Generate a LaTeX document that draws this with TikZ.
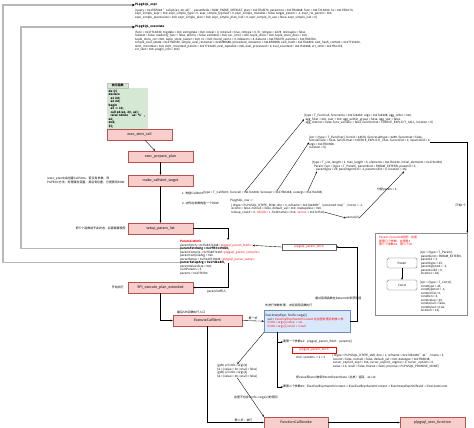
\documentclass[tikz,border=0pt]{standalone}
\usepackage{fontspec}
\setmainfont{Noto Sans CJK SC}
\usetikzlibrary{arrows.meta,
                positioning}

\definecolor{boxpink}{HTML}{F8CECC}
\definecolor{boxred}{HTML}{B85450}
\definecolor{codegreen}{HTML}{D5E8D4}
\definecolor{noteblue}{HTML}{DAE8FC}
\definecolor{noteline}{HTML}{6C8EBF}
\definecolor{backline}{HTML}{B8B8B8}

\newcommand{\tinyfont}{\fontsize{2.95}{3.5}\selectfont}
\newcommand{\boxfont}{\fontsize{3.5}{4}\selectfont}

\begin{document}
\begin{tikzpicture}%
    [x=1pt, y=-1pt, line width=0.35pt,
     >={Stealth[length=2.2pt, width=1.8pt]},
     func/.style={draw=boxred, fill=boxpink, minimum width=65pt, minimum height=11pt,
                  inner sep=0pt, font=\boxfont},
     txt/.style={anchor=west, inner sep=0pt, align=left, font=\tinyfont},
     fetchbox/.style={fill=white, minimum height=6pt, inner sep=0pt, text=red, font=\tinyfont},
     backlink/.style={draw=backline, line width=1.1pt,
                      -{Stealth[length=3pt, width=2.6pt, black]}},
     roundbox/.style={draw=black!70, rounded corners=1.5pt, minimum width=30pt,
                      minimum height=10pt, inner sep=0pt, font=\tinyfont}]
    \useasboundingbox (0,0) rectangle (474,428);

    % structs on top
    \node[txt, font=\tinyfont\bfseries] (exprtitle) at (135,5) {PLpgSQL\_expr};
    \node[txt, anchor=north west] (exprtext) at (135,8.5) {\{query = 0x17f6fda8 "call p1(a1, 20, a2)", parseMode = RAW\_PARSE\_DEFAULT, plan = 0x17f3d570, paramnos = 0x17f6d268, func = 0x17713d40, ns = 0x17f6bc70,\\
      expr\_simple\_expr = 0x0, expr\_simple\_type = 0, expr\_simple\_typmod = 0, expr\_simple\_mutable = false, target\_param = -1, expr\_rw\_param = 0x0,\\
      expr\_simple\_plansource = 0x0, expr\_simple\_plan = 0x0, expr\_simple\_plan\_lxid = 0, expr\_simple\_in\_use = false, expr\_simple\_lxid = 0\}};
    \node[txt, font=\tinyfont\bfseries] (estatetitle) at (135,27) {PLpgSQL\_execstate};
    \node[txt, anchor=north west] (estatetext) at (135,30.5) {\{func = 0x17713d40, trigdata = 0x0, evtrigdata = 0x0, retval = 0, retisnull = true, rettype = 0, fn\_rettype = 2278, retistuple = false,\\
      retisset = false, readonly\_func = false, atomic = false, exitlabel = 0x0, cur\_error = 0x0, tuple\_store = 0x0, tuple\_store\_desc = 0x0,\\
      tuple\_store\_cxt = 0x0, tuple\_store\_owner = 0x0, rsi = 0x0, found\_varno = 0, ndatums = 4, datums = 0x17f6b7f0, paramLI = 0x17f6b7b0,\\
      simple\_eval\_estate = 0x17fa0350, simple\_eval\_resowner = 0x16f69688, procedure\_resowner = 0x16f69688, cast\_hash = 0x17fa2800, cast\_hash\_context = 0x17713a30,\\
      stmt\_mcontext = 0x0, stmt\_mcontext\_parent = 0x17713a30, eval\_tuptable = 0x0, eval\_processed = 0, eval\_econtext = 0x17fa0468, err\_stmt = 0x17f6c178,\\
      err\_text = 0x0, plugin\_info = 0x0\}};

    % the block being run
    \node[fill=codegreen, anchor=north west, text width=38pt, minimum height=41pt, inner sep=1.5pt,
          align=left, font=\tinyfont\bfseries] (plcode) at (107,88) {do \$\$\\
      declare\\
      \ \ a1 int;\\
      \ \ a2 int;\\
      begin\\
      \ \ a1 := 10;\\
      \ \ call p1(a1, 20, a2);\\
      \ \ raise notice 'a2: \%', a2;\\
      end;\\
      \$\$;};
    \node[fill=codegreen, draw=black!25, anchor=south west, minimum width=21pt, minimum height=5pt,
          inner sep=0pt, font=\tinyfont\bfseries] (codetab) at (plcode.north west) {执行函数};

    % main calls
    \node[func] (stmtcall) at (139.5,134.5) {exec\_stmt\_call};
    \node[func] (prepplan) at (160.5,156.5) {exec\_prepare\_plan};
    \node[func] (calltarget) at (160.5,180.5) {make\_callstmt\_target};
    \node[func] (setuplist) at (160.5,228.5) {setup\_param\_list};
    \node[func] (spiplan) at (160.5,287.5) {SPI\_execute\_plan\_extended};
    \node[func, minimum width=69pt] (execcall) at (207.5,320.5) {ExecuteCallStmt};
    \node[func, minimum width=64pt] (fcinvoke) at (296,422.5) {FunctionCallInvoke};
    \node[func] (execfunc) at (432.5,422.5) {plpgsql\_exec\_function};

    \draw[->] (stmtcall) -- (prepplan);
    \draw[->] (prepplan) -- (calltarget);
    \draw[->] (calltarget) -- (setuplist);

    \node[txt] (targetnote) at (47,180.5) {(exec\_plan中会创建CallStmt，若没有参数，同\\
      PGPROC方法，处理缓存变量，其后有位置，它是使用ROW};
    \node[txt, anchor=east] (setupnote) at ([xshift=-2pt]setuplist.west) {把三个函数给予此状态，后面需要使用};
    \node[txt, anchor=east] (startexec) at ([xshift=-4pt]spiplan.west) {开始执行};

    % CallStmt and ROW
    \node[txt] (step1) at (182,193) {1. 构造CallStmt};
    \node[txt] (cs0) at (203,193) {\{type = T\_CallStmt,\ };
    \node[txt, anchor=base west] (csfunccall) at (cs0.base east) {funccall = 0x17e6308,\ };
    \node[txt, anchor=base west] (csfuncexpr) at (csfunccall.base east) {funcexpr = 0x17fb04b8,\ };
    \node[txt, anchor=base west] (csoutargs) at (csfuncexpr.base east) {outargs = 0x17bcd08\}};

    \node[txt, anchor=north west] (funccalltext) at (304,114) {\{type = T\_FuncCall, funcname = 0x17e62b0, args = 0x17e62d8, agg\_order = 0x0,\\
      \ \ agg\_filter = 0x0, over = 0x0, agg\_within\_group = false, agg\_star = false,\\
      \ \ agg\_distinct = false, func\_variadic = false, funcformat = COERCE\_EXPLICIT\_CALL, location = 5\}};
    \node[txt, anchor=north west] (funcexprtext) at (309,135.5) {\{xpr = \{type = T\_FuncExpr\}, funcid = 24576, funcresulttype = 2249, funcretset = false,\\
      funcvariadic = false, funcformat = COERCE\_EXPLICIT\_CALL, funccollid = 0, inputcollid = 0,\\
      args = 0x17fb0b58,\\
      location = 5\}};
    \node[txt, anchor=north west] (listtext) at (312,161) {\{type = T\_List, length = 1, max\_length = 5, elements = 0x17bcd20, initial\_elements = 0x17bcd20\}\\
      \ \ \ Param: \{xpr = \{type = T\_Param\}, paramkind = PARAM\_EXTERN, paramid = 3,\\
      \ \ \ \ \ \ paramtype = 23, paramtypmod = -1, paramcollid = 0, location = 16\}};

    \draw[->] (csfunccall.north) -- (funccalltext.west);
    \draw[->] (csfuncexpr.north) -- (funcexprtext.west);
    \draw[->] (csoutargs.north) -- ([xshift=5pt]listtext.south west);

    \node[txt] (step2) at (182,203) {2. 对传出参数构造一个ROW};
    \node[txt] (rowhead) at (230,201) {PLpgSQL\_row ->};
    \node[txt, anchor=north west] (rowtext) at (231,203.5) {\{ dtype = PLPGSQL\_DTYPE\_ROW, dno = 3, refname = 0x17de48f0 "(unnamed row)", lineno = -1,\\
      isconst = false, notnull = false, default\_val = 0x0, rowtupdesc = 0x0,};
    \node[txt, anchor=base west] (rowtail0) at ([yshift=-3.5pt]rowtext.base west) {lookup\_rowid = 0,\ };
    \node[txt, anchor=base west, text=red] (rownfields) at (rowtail0.base east) {nfields = 1};
    \node[txt, anchor=base west] (rowtail1) at (rownfields.base east) {, fieldnames = 0x0,\ };
    \node[txt, anchor=base west, text=red] (rowvarnos) at (rowtail1.base east) {varnos};
    \node[txt, anchor=base west] (rowtail2) at (rowvarnos.base east) {\ = 0x17e7fa0\}};

    \node[txt] (varnoszero) at (346,218) {varnos[0]};
    \node[txt] (allocparam) at (377,190) {分配param = 3};
    \draw[->] (rowtail2.east) -- (varnoszero.west);
    \draw[->] (varnoszero.east) -- ([xshift=27pt]listtext.south);

    % ParamListInfo
    \node[txt, text=red, font=\tinyfont\bfseries] (plhead) at (180,241.5) {ParamListInfo};
    \node[txt, anchor=base west] (pl1) at ([yshift=-3.5pt]plhead.base west) {paramFetch = 0x7fa4d71268 \textcolor{red}{<plpgsql\_param\_fetch>},};
    \node[txt, anchor=base west, font=\tinyfont\bfseries] (fetcharg) at ([yshift=-3.5pt]pl1.base west) {paramFetchArg = 0x7ff57139d20,};
    \node[txt, anchor=base west] (pl3) at ([yshift=-3.5pt]fetcharg.base west) {paramCompile = 0x7fa4d7126f \textcolor{red}{<plpgsql\_param\_compile>},};
    \node[txt, anchor=base west] (pl4) at ([yshift=-3.5pt]pl3.base west) {paramCompileArg = 0x0,};
    \node[txt, anchor=base west] (pl5) at ([yshift=-3.5pt]pl4.base west) {parserSetup = 0x7fa4d719224 \textcolor{red}{<plpgsql\_parser\_setup>},};
    \node[txt, anchor=base west, font=\tinyfont\bfseries] (setuparg) at ([yshift=-3.5pt]pl5.base west) {parserSetupArg = 0x17d6e4f0,};
    \node[txt, anchor=base west] (pl7) at ([yshift=-3.5pt]setuparg.base west) {paramValuesSize = 0x0,};
    \node[txt, anchor=base west] (pl8) at ([yshift=-3.5pt]pl7.base west) {numParams = 3,};
    \node[txt, anchor=base west] (pl9) at ([yshift=-3.5pt]pl8.base west) {params = 0x17f07b0};

    \draw[backlink] (setuparg.west) -- ++(-177,0) |- (exprtitle.west);
    \draw[backlink] (fetcharg.west) -- ++(-159,0) |- (estatetitle.west);

    \coordinate (plin) at (228,240);
    \draw[->] (setuplist.east) -| (plin);
    \draw[->] (plin |- setuparg) |- (spiplan.east);
    \node[txt] (plpass) at (207,291.5) {paramlist传入};

    \node[fetchbox, draw=black!60, minimum width=54pt] (fetchcb) at (309,247) {plpgsql\_param\_fetch};
    \draw[->] (fetchcb.west) -- (pl1.east);

    % Param / Const
    \node[draw=black!45, minimum width=92pt, minimum height=82pt, anchor=north west] (paramsbox) at (375,233) {};
    \node[txt, anchor=north west, text=red] (paramnote) at (379,236) {Param->paramid就是：这里\\
      是第几个参数，这里是3\\
      第三个参数a2，第二个20};
    \node[roundbox] (paramnode) at (402,263) {Param};
    \node[roundbox] (constnode) at (402,285) {Const};
    \draw[->] (paramnode) -- (constnode);
    \node[txt, anchor=north west] (paramfields) at (420,251) {\{xpr = \{type = T\_Param\},\\
      \ paramkind = PARAM\_EXTERN,\\
      \ paramid = 3,\\
      \ paramtype = 23,\\
      \ paramtypmod = -1,\\
      \ paramcollid = 0,\\
      \ location = 16\}};
    \node[txt, anchor=north west] (constfields) at (420,281) {\{xpr = \{type = T\_Const\},\\
      \ consttype = 23,\\
      \ consttypmod = -1,\\
      \ constcollid = 0,\\
      \ constlen = 4,\\
      \ constvalue = 20,\\
      \ constisnull = false,\\
      \ constbyval = true,\\
      \ location = 13\}};
    \draw[->] (funcexprtext.east) -| (paramsbox.north east);
    \node[txt, anchor=east] (onlyone) at (466,205) {只有1个};

    % ExecuteCallStmt
    \draw[->] (spiplan.south) |- (execcall.west);
    \node[txt] (spientry) at (177,312) {最后SPI函数执行入口};

    \node[draw=noteline, fill=noteblue, anchor=north west, text width=83pt, minimum height=22pt,
          inner sep=1.5pt, align=left, font=\tinyfont] (argeval) at (264,310) {ExecInterpExpr, fcinfo->args[i]\\
      \ \ val = \textcolor{red}{ExecEvalExprSwitchContext 在这里处理后的放入参}\\
      \ \ \textcolor{red}{fcinfo->args[i].value = val}\\
      \ \ \textcolor{red}{fcinfo->args[i].isnull = isnull}};
    \node[txt] (argnote) at (265,305) {先进行参数处理，才能调用函数执行};
    \draw[->] (execcall.east) -- node[above=0.5pt, font=\tinyfont, inner sep=0pt] {第一步} (argeval.west);

    \draw[->] (argeval.east) -- ++(7,0) |- (fetchcb.east);
    \node[txt] (datumnote) at (315,298) {通过回调函数在Datums中来获取值};

    \coordinate (argbus) at ([xshift=-30pt]argeval.south);
    \node[txt] (firstarg) at (283,342) {要第一个参数a1：plpgsql\_param\_fetch：params[i]};
    \node[txt] (secondarg) at (283,387) {要第二个参数20：ExecEvalExprSwitchContext -> ExecEvalExprSwitchContext -> ExecInterpExprStillValid -> ExecJustConst};
    \draw[->] (argbus) |- (firstarg.west);
    \draw[->] (argbus) |- (secondarg.west);

    \node[fetchbox, draw=red, minimum width=44pt] (fetchcall) at (314,350) {plpgsql\_param\_fetch};
    \node[txt] (dnoline) at (296,357.5) {dno = params -> 1 = 1};
    \node[txt, anchor=north west] (vardatum) at (332,354) {\{ dtype = PLPGSQL\_DTYPE\_VAR, dno = 1, refname = 0x17d61438 "a1", lineno = 3,\\
      \ isconst = false, notnull = false, default\_val = 0x0, datatype = 0x17f8b038,\\
      \ cursor\_explicit\_expr = 0x0, cursor\_explicit\_argrow = 0, cursor\_options = 0,\\
      \ value = 10, isnull = false, freeval = false, promise = PLPGSQL\_PROMISE\_NONE\}};
    \node[txt] (assignback) at (296,377) {把value和isnull放到ParamExternData（出参）返回，a1=10};

    \node[txt, anchor=north west] (gdbargs) at (217,364) {(gdb) p fcinfo->args[0]\\
      \$1 = \{value = 10, isnull = false\}\\
      (gdb) p fcinfo->args[1]\\
      \$2 = \{value = 20, isnull = false\}};
    \node[txt] (noarg3) at (234,398) {这里不包含fcinfo->args[2]的原因};
    \draw[->] (argeval.south west) -- (gdbargs.north);
    \draw[->] (gdbargs.south) -- (fcinvoke.north west);

    \draw[->] (execcall.south) |- node[pos=0.82, above=0.8pt, font=\tinyfont, inner sep=0pt] {第二步：执行} (fcinvoke.west);
    \draw[->] (fcinvoke) -- (execfunc);
\end{tikzpicture}
\end{document}
